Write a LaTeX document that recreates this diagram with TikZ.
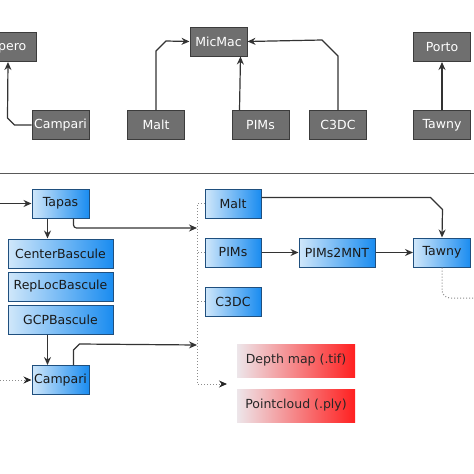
\documentclass[tikz,border=0pt]{standalone}
\usepackage{fontspec}
\setmainfont{DejaVu Sans}
\usetikzlibrary{arrows.meta,positioning,calc}

\definecolor{toolgray}{HTML}{6F6F6F}
\definecolor{toolline}{HTML}{3C3C3C}
\definecolor{blueL}{HTML}{D0E7FA}
\definecolor{blueR}{HTML}{1A8CF0}
\definecolor{blueline}{HTML}{1F4F7E}
\definecolor{redL}{HTML}{EDE6EA}
\definecolor{redR}{HTML}{FF2020}

\begin{document}
\begin{tikzpicture}[x=1pt, y=-1pt, node distance=3pt, >={Stealth[length=8pt,width=7pt]},
    font=\fontsize{12.5}{15}\selectfont,
    tool/.style={rectangle, draw=toolline, fill=toolgray, text=white, minimum width=57pt, minimum height=29pt, inner sep=0pt, line width=1pt},
    block/.style={rectangle, draw=blueline, left color=blueL, right color=blueR, text=black!90, minimum width=57pt, minimum height=29pt, inner sep=0pt, line width=1pt},
    result/.style={rectangle, left color=redL, right color=redR, text=black!85, minimum width=118pt, minimum height=33pt, inner sep=0pt},
    link/.style={->, line width=1.2pt, draw=black!80},
    dots/.style={dotted, line width=1pt, draw=black!45},
    dotlink/.style={dots, -{Stealth[length=8pt,width=7pt,black!85]}}]

    \useasboundingbox (0,0) rectangle (474,474);
    \clip (0,0) rectangle (474,474);

    % Top part - tool dependencies
    \node[tool] (apero) at (8,47) {Apero};
    \node[tool] (micmac) at (218.5,41.5) {MicMac};
    \node[tool] (porto) at (442,47) {Porto};
    \node[tool] (campariG) at (60.5,125) {Campari};
    \node[tool] (maltG) at (156,125) {Malt};
    \node[tool] (pimsG) at (260.5,125) {PIMs};
    \node[tool] (c3dcG) at (338,125) {C3DC};
    \node[tool] (tawnyG) at (442,125) {Tawny};

    \draw[link] (campariG.west) -- ++(-17,0) -- ++(-7,-7) -- (apero.south);
    \draw[link] (maltG.north) -- ++(0,-59) -- ++(10,-10) -- (micmac.west);
    \draw[link] ($(pimsG.north west)+(8,0)$) -- ($(micmac.south east)+(-7,0)$);
    \draw[link] (c3dcG.north) -- ++(0,-54) -- ++(-16,-16) -- (micmac.east);
    \draw[link] (tawnyG) -- (porto);

    % Separator
    \draw[line width=1.2pt, black!65] (0,173.5) -- (474,173.5);

    % Left side - orientation
    \coordinate (inTapas) at (0,203.5);
    \node[block] (tapas) at (60.5,203.5) {Tapas};
    \node[block, minimum width=105pt] (centerB) at (60.5,253.5) {CenterBascule};
    \node[block, minimum width=105pt, below=of centerB] (replocB) {RepLocBascule};
    \node[block, minimum width=105pt, below=of replocB] (gcpB) {GCPBascule};
    \coordinate (inCampari) at (0,380);
    \node[block] (campari) at (60.5,380) {Campari};

    % Right side - dense matching
    \node[block, minimum width=56pt] (malt) at (233,203.5) {Malt};
    \node[block, minimum width=56pt] (pims) at (233,252.5) {PIMs};
    \node[block, minimum width=56pt] (c3dc) at (233,301.5) {C3DC};
    \node[block, minimum width=76pt] (pimsmnt) at (337,252.5) {PIMs2MNT};
    \node[block] (tawny) at (442,252.5) {Tawny};
    \coordinate (outTawny) at (474,298);

    % Outputs
    \node[result] (depth) at (296,360.5) {Depth map (.tif)};
    \node[result] (cloud) at (296,405.5) {Pointcloud (.ply)};

    % Bus
    \coordinate (bus1) at (197,228);
    \coordinate (bus2) at (197,345);
    \coordinate (busEnd) at (197,384);
    \coordinate (busOut) at (227,384);

    % Arrows
    \draw[link] (inTapas) -- (tapas.west);
    \draw[link] ($(tapas.south west)+(16,0)$) -- ($(centerB.north west)+(40,0)$);
    \draw[link] ($(gcpB.south west)+(40,0)$) -- ($(campari.north west)+(16,0)$);
    \draw[dotlink] (inCampari) -- (campari.west);
    \draw[link, rounded corners=3pt] ($(tapas.south east)+(-16,0)$) |- (bus1);
    \draw[link] ($(campari.north east)+(-16,0)$) -- ++(0,-15) -- ++(6,-6) -- (bus2);
    \draw[dotlink] (malt.west) -| (busEnd) -- (busOut);
    \draw[dots] (pims.west) -- (pims.west -| busEnd);
    \draw[dots] (c3dc.west) -- (c3dc.west -| busEnd);
    \draw[link] ($(malt.east)+(0,-6)$) -- ++(169,0) -- ++(12,12) -- (tawny.north);
    \draw[link] (pims) -- (pimsmnt);
    \draw[link] (pimsmnt) -- (tawny);
    \draw[dots, rounded corners=8pt] (tawny.south) |- (outTawny);

\end{tikzpicture}
\end{document}
